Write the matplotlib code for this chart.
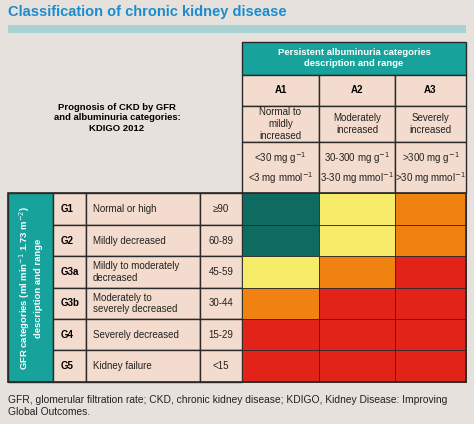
import matplotlib.pyplot as plt
from matplotlib.patches import Rectangle

plt.rcParams['font.family'] = ['Liberation Sans', 'DejaVu Sans']

# data
albu_codes = ['A1', 'A2', 'A3']
albu_desc = ['Normal to\nmildly\nincreased', 'Moderately\nincreased', 'Severely\nincreased']
albu_range = ['<30 mg g$^{-1}$\n<3 mg mmol$^{-1}$', '30-300 mg g$^{-1}$\n3-30 mg mmol$^{-1}$',
              '>300 mg g$^{-1}$\n>30 mg mmol$^{-1}$']
gfr_codes = ['G1', 'G2', 'G3a', 'G3b', 'G4', 'G5']
gfr_desc = ['Normal or high', 'Mildly decreased', 'Mildly to moderately\ndecreased',
            'Moderately to\nseverely decreased', 'Severely decreased', 'Kidney failure']
gfr_range = ['≥90', '60-89', '45-59', '30-44', '15-29', '<15']
# risk level: 0 low, 1 moderate, 2 high, 3 very high
risk = [[0, 1, 2],
        [0, 1, 2],
        [1, 2, 3],
        [2, 3, 3],
        [3, 3, 3],
        [3, 3, 3]]

risk_colors = ['#0f6b5f', '#f7ec6a', '#ef8210', '#e2231a']
bg = '#e6e1dc'
peach = '#f3dccd'
teal = '#17a39b'
line = '#2a2a2a'

fig = plt.figure(figsize=(4.74, 4.24), dpi=100)
fig.patch.set_facecolor(bg)
ax = fig.add_axes([0, 0, 1, 1])
ax.set_xlim(0, 474)
ax.set_ylim(424, 0)
ax.axis('off')


def cell(x0, y0, x1, y1, fc, lw=1.0):
    ax.add_patch(Rectangle((x0, y0), x1 - x0, y1 - y0, facecolor=fc, edgecolor=line, lw=lw))


ax.text(8, 12, 'Classification of chronic kidney disease', color='#1a8ccf',
        fontsize=10.5, fontweight='bold', va='center')
ax.add_patch(Rectangle((8, 25), 458, 8, facecolor='#a9d3d3', edgecolor='none'))

# header
cols = [242, 319, 395, 466]
cell(242, 42, 466, 75, teal)
ax.text(354, 58, 'Persistent albuminuria categories\ndescription and range', color='white',
        fontsize=6.8, fontweight='bold', ha='center', va='center', linespacing=1.3)
for i in range(3):
    xc = (cols[i] + cols[i + 1]) / 2
    cell(cols[i], 75, cols[i + 1], 106, peach)
    cell(cols[i], 106, cols[i + 1], 142, peach)
    cell(cols[i], 142, cols[i + 1], 193, peach)
    ax.text(xc, 90, albu_codes[i], fontsize=7, fontweight='bold', ha='center', va='center')
    ax.text(xc, 124, albu_desc[i], fontsize=7, ha='center', va='center', color='#222', linespacing=1.2)
    ax.text(xc, 168, albu_range[i], fontsize=7, ha='center', va='center', color='#222', linespacing=1.3)

ax.text(117, 118, 'Prognosis of CKD by GFR\nand albuminuria categories:\nKDIGO 2012',
        fontsize=6.8, fontweight='bold', ha='center', va='center', linespacing=1.2)

# rows
rows = [193, 225, 256, 288, 319, 350, 382]
cell(8, 193, 53, 382, teal)
ax.text(30, 288, 'GFR categories (ml min$^{-1}$ 1.73 m$^{-2}$)\ndescription and range', color='white',
        fontsize=6.8, fontweight='bold', ha='center', va='center', rotation=90, linespacing=1.3)
for r in range(6):
    y0, y1 = rows[r], rows[r + 1]
    yc = (y0 + y1) / 2
    cell(53, y0, 86, y1, peach)
    cell(86, y0, 200, y1, peach)
    cell(200, y0, 242, y1, peach)
    ax.text(61, yc, gfr_codes[r], fontsize=7, fontweight='bold', va='center')
    ax.text(93, yc, gfr_desc[r], fontsize=7, va='center', color='#222', linespacing=1.2)
    ax.text(221, yc, gfr_range[r], fontsize=7, ha='center', va='center', color='#222')
    for c in range(3):
        ax.add_patch(Rectangle((cols[c], y0), cols[c + 1] - cols[c], y1 - y0,
                               facecolor=risk_colors[risk[r][c]], edgecolor=line, lw=0.6))
ax.add_patch(Rectangle((8, 193), 458, 189, facecolor='none', edgecolor=line, lw=1.2))

ax.text(8, 406, 'GFR, glomerular filtration rate; CKD, chronic kidney disease; KDIGO, Kidney Disease: Improving\nGlobal Outcomes.',
        fontsize=7.4, va='center', color='#222', linespacing=1.3)

fig.savefig('out.png', dpi=100, facecolor=bg)
